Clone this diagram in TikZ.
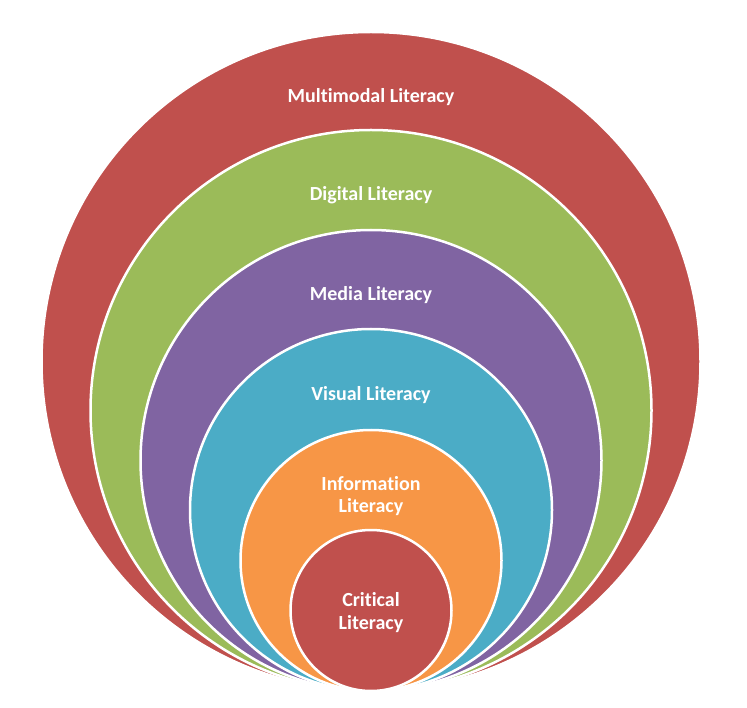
\documentclass[tikz,border=0pt]{standalone}
\usepackage{fontspec}
\setmainfont{Carlito}[Ligatures=NoCommon]
\definecolor{cRed}{HTML}{C0504D}
\definecolor{cGreen}{HTML}{9BBB59}
\definecolor{cPurple}{HTML}{8064A2}
\definecolor{cTeal}{HTML}{4BACC6}
\definecolor{cOrange}{HTML}{F79646}
\tikzset{
  ring/.style={circle, inner sep=0pt, outer sep=0pt, draw=white, line width=2.5pt, minimum size=#1},
  lbl/.style={text=white, font=\fontsize{20}{22.5}\selectfont\bfseries, align=center, inner sep=0pt}
}
\begin{document}
\begin{tikzpicture}[x=1pt,y=-1pt]
\useasboundingbox (0,0) rectangle (747,708);
\node[ring=659pt, fill=cRed]    (c1) at (371,361.5) {};
\node[ring=561pt, fill=cGreen]  (c2) at (371,410.5) {};
\node[ring=461pt, fill=cPurple] (c3) at (371,460.5) {};
\node[ring=362pt, fill=cTeal]   (c4) at (371,510) {};
\node[ring=261pt, fill=cOrange] (c5) at (371,560.5) {};
\node[ring=161pt, fill=cRed]    (c6) at (371,610.5) {};
\node[lbl] (t1) at (371,97) {Multimodal Literacy};
\node[lbl] (t2) at (371,195) {Digital Literacy};
\node[lbl] (t3) at (371,295) {Media Literacy};
\node[lbl] (t4) at (371,395) {Visual Literacy};
\node[lbl] (t5) at (371,496) {Information\\Literacy};
\node[lbl] (t6) at (371,612.5) {Critical\\Literacy};
\end{tikzpicture}
\end{document}
